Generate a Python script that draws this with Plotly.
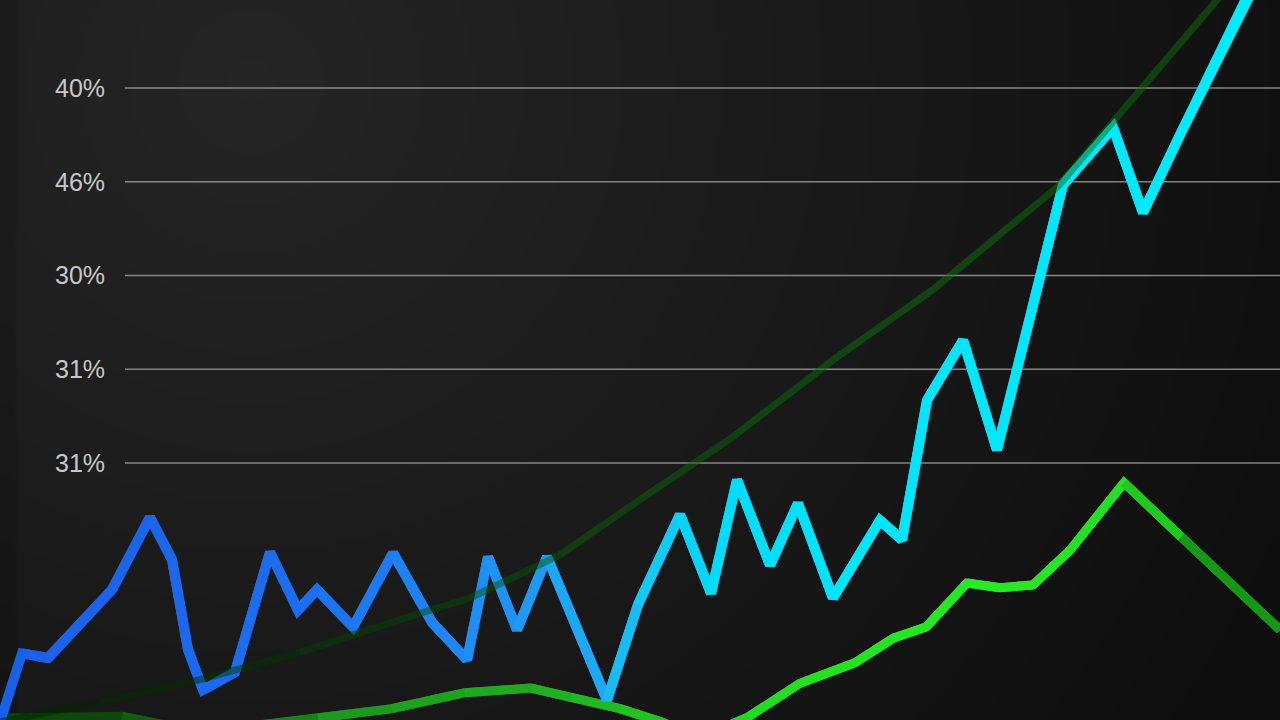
import zlib, struct, base64
import plotly.graph_objects as go

# ---------------- data ----------------
blue_x = [-2, 22, 48, 112, 150, 172, 188, 203, 235, 270, 298, 317, 353, 393, 432, 467,
          488, 517, 547, 607, 638, 680, 711, 737, 770, 798, 833, 880, 902, 927, 963,
          997, 1063, 1113, 1143, 1180, 1250, 1265]
blue_y = [-18.3, -10.3, -10.8, -3.5, 4.2, -0.3, -9.9, -14.2, -12.3, 0.5, -5.7, -3.5,
          -7.5, 0.4, -7.0, -11.0, 0.0, -7.8, 0.0, -15.3, -5.1, 4.5, -3.9, 8.2, -0.9,
          5.7, -4.4, 3.9, 1.8, 16.7, 23.1, 11.4, 39.7, 45.8, 36.7, 45.0, 59.9, 63.7]

green_x = [0, 122, 200, 318, 392, 465, 531, 571, 620, 661, 700, 748, 800, 855, 893,
           926, 967, 1000, 1033, 1070, 1124, 1181, 1280]
green_y = [-17.2, -17.0, -18.7, -17.2, -16.2, -14.5, -14.0, -15.0, -16.2, -17.6, -19.3,
           -17.1, -13.5, -11.3, -8.7, -7.5, -2.8, -3.3, -3.0, 0.7, 7.9, 2.1, -7.8]

trend_x = [0, 100, 200, 300, 400, 470, 560, 640, 733, 833, 933, 1057, 1217, 1250]
trend_y = [-17.6, -15.5, -13.1, -10.2, -6.7, -4.4, 0.2, 6.1, 12.8, 21.0, 28.5, 39.4, 59.4, 63.7]

tick_vals = [10, 20, 30, 40, 50, 60]
tick_text = ["31%", "31%", "30%", "46%", "40%", "40%"]

# ---------------- styling ----------------
BLUE_STOPS = [(0, (25, 95, 232)), (300, (28, 110, 240)), (450, (30, 135, 245)),
              (560, (30, 160, 245)), (650, (20, 200, 245)), (720, (0, 220, 250)),
              (850, (0, 228, 252)), (1300, (0, 235, 255))]
GREEN_STOPS = [(0, (10, 60, 10)), (150, (14, 90, 14)), (320, (28, 150, 28)),
               (550, (32, 175, 32)), (750, (35, 220, 35)), (1000, (38, 235, 38)),
               (1124, (35, 220, 35)), (1200, (25, 170, 25)), (1300, (12, 110, 12))]
TREND_STOPS = [(0, (0, 30, 0)), (300, (0, 60, 0)), (600, (8, 95, 8)),
               (900, (12, 115, 12)), (1300, (12, 110, 12))]


def interp_rgb(stops, x):
    if x <= stops[0][0]:
        return stops[0][1]
    if x >= stops[-1][0]:
        return stops[-1][1]
    for (x0, c0), (x1, c1) in zip(stops[:-1], stops[1:]):
        if x0 <= x <= x1:
            t = (x - x0) / (x1 - x0)
            return tuple(c0[i] + (c1[i] - c0[i]) * t for i in range(3))


def gradient_traces(xs, ys, stops, width, alpha=None):
    traces = []
    n = len(xs)
    span = 2 if alpha is not None else 3
    for k in range(n - 1):
        sl = slice(k, min(k + span, n))
        c = tuple(int(round(v)) for v in interp_rgb(stops, (xs[k] + xs[k + 1]) / 2))
        col = ("rgba(%d,%d,%d,%s)" % (c + (alpha,))) if alpha is not None else "rgb(%d,%d,%d)" % c
        traces.append(go.Scatter(x=xs[sl], y=ys[sl], mode="lines",
                                 line=dict(color=col, width=width),
                                 hoverinfo="skip", showlegend=False))
    return traces


def background_uri(w=320, h=180):
    raw = bytearray()
    for j in range(h):
        raw.append(0)
        py = j / (h - 1) * 720
        for i in range(w):
            px = i / (w - 1) * 1280
            d = ((px - 250) ** 2 + (py - 80) ** 2) ** 0.5
            c = 37 - 23 * min(1.0, d / 1150)
            if px < 14:
                c *= 0.85
            v = int(round(c))
            raw.extend((v, v, v))

    def chunk(t, d):
        return struct.pack(">I", len(d)) + t + d + struct.pack(">I", zlib.crc32(t + d) & 0xffffffff)

    png = (b"\x89PNG\r\n\x1a\n"
           + chunk(b"IHDR", struct.pack(">IIBBBBB", w, h, 8, 2, 0, 0, 0))
           + chunk(b"IDAT", zlib.compress(bytes(raw), 9))
           + chunk(b"IEND", b""))
    return "data:image/png;base64," + base64.b64encode(png).decode()


fig = go.Figure()
for tr in gradient_traces(green_x, green_y, GREEN_STOPS, 9):
    fig.add_trace(tr)
for tr in gradient_traces(blue_x, blue_y, BLUE_STOPS, 10):
    fig.add_trace(tr)
for tr in gradient_traces(trend_x, trend_y, TREND_STOPS, 7, alpha=0.5):
    fig.add_trace(tr)

grid_shapes = [dict(type="line", xref="paper", yref="y", x0=125 / 1280, x1=1,
                    y0=v, y1=v, line=dict(color="rgba(170,170,170,0.75)", width=1.5),
                    layer="below")
               for v in tick_vals]

fig.update_layout(
    width=1280, height=720,
    margin=dict(l=0, r=0, t=0, b=0),
    paper_bgcolor="#1a1a1a",
    plot_bgcolor="rgba(0,0,0,0)",
    showlegend=False,
    hovermode=False,
    shapes=grid_shapes,
    images=[dict(source=background_uri(), xref="paper", yref="paper", x=0, y=1,
                 sizex=1, sizey=1, sizing="stretch", xanchor="left", yanchor="top",
                 layer="below")],
    xaxis=dict(range=[0, 1280], visible=False, fixedrange=True),
    yaxis=dict(range=[-17.41, 59.39], tickvals=tick_vals, ticktext=tick_text,
               ticklabelposition="inside", ticklabelstandoff=52, ticks="",
               showgrid=False, zeroline=False, showline=False, fixedrange=True,
               tickfont=dict(family="Liberation Sans", size=25, color="#c8c8c8")),
)

fig.write_html("out.html", config={"displayModeBar": False},
               post_script="document.body.style.margin='0';document.body.style.background='#1a1a1a';")
